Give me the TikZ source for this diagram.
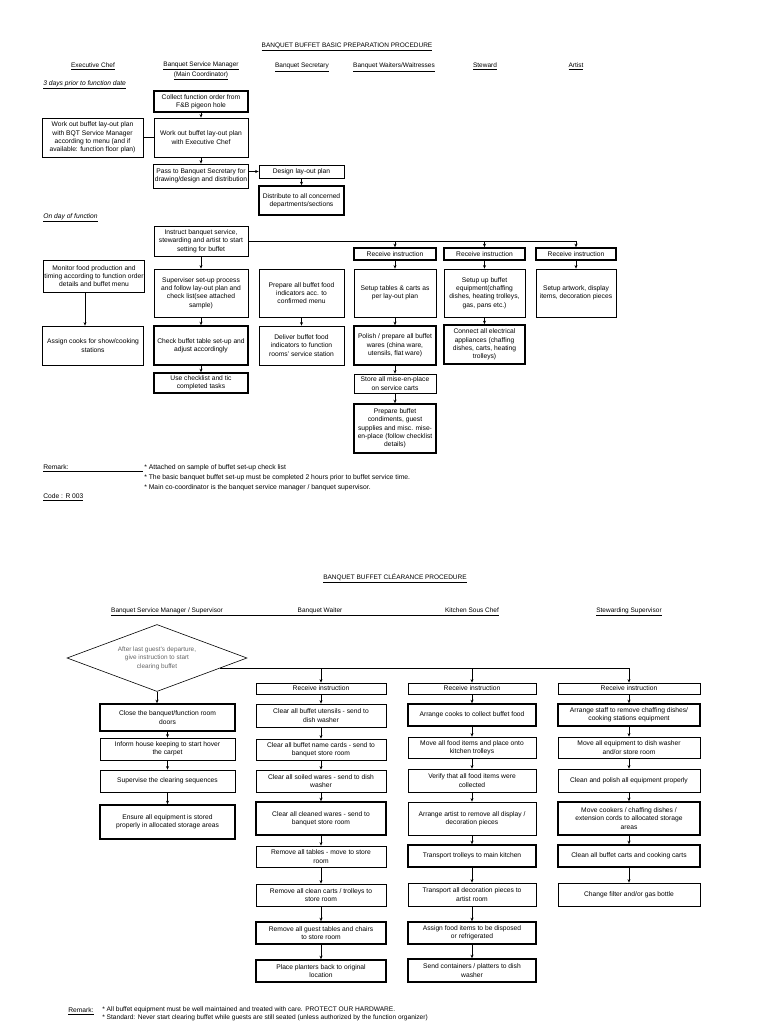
\documentclass[tikz,border=0pt]{standalone}
\usepackage{fontspec}
\setmainfont{Liberation Sans}
\usetikzlibrary{positioning,shapes.geometric,arrows.meta}
\newcommand\bqbox{\fontsize{6.7}{8.3}\selectfont}
\newcommand\bqhead{\fontsize{6.5}{10.5}\selectfont}
\newcommand\bqsmall{\fontsize{6.4}{8.4}\selectfont}
\newcommand\bqnote{\fontsize{6.8}{10}\selectfont}
\tikzset{
  box/.style={rectangle,draw,line width=0.8pt,align=center,inner sep=1pt,font=\bqbox},
  boldbox/.style={box,line width=1.6pt},
  heading/.style={font=\bqhead,inner sep=0pt,align=center},
  note/.style={font=\bqbox,inner sep=0pt,anchor=west,align=left},
  % column widths
  bsm/.style={minimum width=94pt},
  sec/.style={minimum width=85pt},
  chef/.style={minimum width=101pt},
  wait/.style={minimum width=82pt},
  stew/.style={minimum width=81pt},
  art/.style={minimum width=80pt},
  cmgr/.style={minimum width=135pt},
  cwait/.style={minimum width=130pt},
  ckit/.style={minimum width=128pt},
  cstew/.style={minimum width=142pt},
}
\begin{document}
\begin{tikzpicture}[x=1pt,y=-1pt,>={Stealth[length=3.5pt,width=3pt]},line width=0.6pt]
      \useasboundingbox[fill=white] (0,0) rectangle (768,1024);
      % Preparation title and column heads
      \node[heading] (title1) at (347,47) {\underline{BANQUET BUFFET BASIC PREPARATION PROCEDURE}};
      \node[heading,anchor=base] (hchef) at (93,68) {\underline{Executive Chef}};
      \node[heading] (hbsm) at (201,71) {\underline{Banquet Service Manager}\\\underline{(Main Coordinator)}};
      \node[heading,anchor=base] (hsec) at (302,68) {\underline{Banquet Secretary}};
      \node[heading,anchor=base] (hwait) at (394,68) {\underline{Banquet Waiters/Waitresses}};
      \node[heading,anchor=base] (hstew) at (485,68) {\underline{Steward}};
      \node[heading,anchor=base] (hart) at (576,68) {\underline{Artist}};
      \node[note,font=\bqbox\itshape] (prior) at (43,85) {\underline{3 days prior to function date}};
      % 3 days prior
      \node[boldbox,bsm,minimum height=21pt] (collect) at (201,101.5) {Collect function order from\\F\&B pigeon hole};
      \node[box,bsm,minimum height=39pt] (workbm) at (201,137.5) {Work out buffet lay-out plan\\with Executive Chef};
      \node[box,chef,minimum height=39pt] (workec) at (92.5,137.5) {Work out buffet lay-out plan\\with BQT Service Manager\\according to menu (and if\\available: function floor plan)};
      \node[box,bsm,minimum height=24pt] (pass) at (201,176) {Pass to Banquet Secretary for\\drawing/design and distribution};
      \node[box,sec,minimum height=13pt] (design) at (301.5,171.5) {Design lay-out plan};
      \node[boldbox,sec,minimum height=29pt] (distribute) at (301.5,200.5) {Distribute to all concerned\\departments/sections};
      \draw[->] (collect) -- (workbm);
      \draw (workec) -- (workbm);
      \draw[->] (workbm) -- (pass);
      \draw[->] (design.west -| pass.east) -- (design.west);
      \draw[->] (design) -- (distribute);
      % On day of function
      \node[note,font=\bqbox\itshape] (onday) at (43,218) {\underline{On day of function}};
      \node[box,bsm,minimum height=30pt] (instruct) at (201,241) {Instruct banquet service,\\stewarding and artist to start\\setting for buffet};
      \node[box,chef,minimum height=32pt] (monitor) at (94,276) {Monitor food production and\\timing according to function order\\details and buffet menu};
      \node[box,chef,minimum height=39pt] (assign) at (93,345.5) {Assign cooks for show/cooking\\stations};
      \node[box,bsm,minimum height=48pt] (supervise) at (201,293) {Superviser set-up process\\and follow lay-out plan and\\check list(see attached\\sample)};
      \node[boldbox,bsm,minimum height=39pt] (check) at (201,345.5) {Check buffet table set-up and\\adjust accordingly};
      \node[boldbox,bsm,minimum height=20pt] (usecheck) at (201,383) {Use checklist and tic\\completed tasks};
      \node[box,sec,minimum height=48pt] (prepind) at (301.5,293) {Prepare all buffet food\\indicators acc. to\\confirmed menu};
      \node[box,sec,minimum height=39pt] (deliver) at (301.5,345.5) {Deliver buffet food\\indicators to function\\rooms' service station};
      % receiving columns
      \node[boldbox,wait,minimum height=12pt] (rcvwait) at (395,254) {Receive instruction};
      \node[boldbox,stew,minimum height=12pt] (rcvstew) at (484.5,254) {Receive instruction};
      \node[boldbox,art,minimum height=12pt] (rcvart) at (576,254) {Receive instruction};
      \node[box,wait,minimum height=48pt] (setuptab) at (395,293) {Setup tables \& carts as\\per lay-out plan};
      \node[box,stew,minimum height=48pt] (setupeq) at (484.5,293) {Setup up buffet\\equipment(chaffing\\dishes, heating trolleys,\\gas, pans etc.)};
      \node[box,art,minimum height=48pt] (setupart) at (576,293) {Setup artwork, display\\items, decoration pieces};
      \node[boldbox,wait,minimum height=39pt] (polish) at (395,345.5) {Polish / prepare all buffet\\wares (china ware,\\utensils, flat ware)};
      \node[box,wait,minimum height=19pt] (store) at (395,383.5) {Store all mise-en-place\\on service carts};
      \node[boldbox,wait,minimum height=49pt] (condiments) at (395,428.5) {Prepare buffet\\condiments, guest\\supplies and misc. mise-\\en-place (follow checklist\\details)};
      \node[boldbox,stew,minimum height=39pt] (connect) at (484.5,344.5) {Connect all electrical\\appliances (chaffing\\dishes, carts, heating\\trolleys)};
      % interactions..
      \draw[->] (instruct) -- (supervise);
      \draw[->] (supervise) -- (check);
      \draw[->] (check) -- (usecheck);
      \draw[->] (prepind) -- (deliver);
      \draw[->] ([xshift=-9pt]monitor.south) -- ([xshift=-9pt]monitor.south |- assign.north);
      \draw (instruct.east) -- (instruct.east -| rcvart.north);
      \draw[->] (instruct.east -| rcvwait.north) -- (rcvwait.north);
      \draw[->] (instruct.east -| rcvstew.north) -- (rcvstew.north);
      \draw[->] (instruct.east -| rcvart.north) -- (rcvart.north);
      \draw[->] (rcvwait) -- (setuptab);
      \draw[->] (setuptab) -- (polish);
      \draw[->] (polish) -- (store);
      \draw[->] (store) -- (condiments);
      \draw[->] (rcvstew) -- (setupeq);
      \draw[->] (setupeq) -- (connect);
      \draw[->] (rcvart) -- (setupart);
      % remarks
      \node[note] (remark1) at (43,468) {\underline{\makebox[100pt][l]{Remark:}}};
      \node[note,font=\bqnote,anchor=north west] (remarks1) at (144,464) {* Attached on sample of buffet set-up check list\\* The basic banquet buffet set-up must be completed 2 hours prior to buffet service time.\\* Main co-coordinator is the banquet service manager / banquet supervisor.};
      \node[note] (code) at (43,497) {\underline{Code : R 003}};

      % Clearance title and column heads
      \node[heading] (title2) at (395,578) {\underline{BANQUET BUFFET CLÉARANCE PROCEDURE}};
      \node[heading,anchor=base] (hcmgr) at (167,612) {Banquet Service Manager / Supervisor};
      \node[heading,anchor=base] (hcwait) at (320,612) {Banquet Waiter};
      \node[heading,anchor=base] (hckit) at (472,612) {Kitchen Sous Chef};
      \node[heading,anchor=base] (hcstew) at (629,612) {\underline{Stewarding Supervisor}};
      \draw ([yshift=-1.5pt]hcmgr.south west) -- ([yshift=-1.5pt]hcmgr.south west -| hckit.east);
      % start of clearing
      \node[diamond,draw,line width=0.6pt,minimum width=180pt,minimum height=67pt,inner sep=0pt,aspect=2.7,align=center,font=\bqsmall,text=black!60] (depart) at (157,658) {After last guest's departure,\\give instruction to start\\clearing buffet};
      \coordinate (clrturn) at (depart.-9);
      % manager
      \node[boldbox,cmgr,minimum height=27pt] (close) at (167.5,717.5) {Close the banquet/function room\\doors};
      \node[box,cmgr,minimum height=22pt] (inform) at (167.5,749) {Inform house keeping to start hover\\the carpet};
      \node[box,cmgr,minimum height=22pt] (superv) at (167.5,781) {Supervise the clearing sequences};
      \node[boldbox,cmgr,minimum height=34pt] (ensure) at (167.5,822) {Ensure all equipment is stored\\properly in allocated storage areas};
      % waiter
      \node[box,cwait,minimum height=11pt] (rcvcwait) at (321,688.5) {Receive instruction};
      \node[box,cwait,minimum height=23pt] (wutensil) at (321,715.5) {Clear all buffet utensils - send to\\dish washer};
      \node[box,cwait,minimum height=21pt] (wcards) at (321,749.5) {Clear all buffet name cards - send to\\banquet store room};
      \node[box,cwait,minimum height=22pt] (wsoiled) at (321,781) {Clear all soiled wares - send to dish\\washer};
      \node[boldbox,cwait,minimum height=33pt] (wcleaned) at (321,818.5) {Clear all cleaned wares - send to\\banquet store room};
      \node[box,cwait,minimum height=21pt] (wtables) at (321,856.5) {Remove all tables - move to store\\room};
      \node[box,cwait,minimum height=22pt] (wcarts) at (321,895) {Remove all clean carts / trolleys to\\store room};
      \node[boldbox,cwait,minimum height=22pt] (wguest) at (321,933) {Remove all guest tables and chairs\\to store room};
      \node[boldbox,cwait,minimum height=22pt] (wplanter) at (321,971) {Place planters back to original\\location};
      % kitchen
      \node[box,ckit,minimum height=11pt] (rcvckit) at (472,688.5) {Receive instruction};
      \node[boldbox,ckit,minimum height=22pt] (kcooks) at (472,715) {Arrange cooks to collect buffet food};
      \node[box,ckit,minimum height=21pt] (kmove) at (472,747.5) {Move all food items and place onto\\kitchen trolleys};
      \node[box,ckit,minimum height=23pt] (kverify) at (472,780.5) {Verify that all food items were\\collected};
      \node[box,ckit,minimum height=33pt] (kartist) at (472,818.5) {Arrange artist to remove all display /\\decoration pieces};
      \node[boldbox,ckit,minimum height=22pt] (ktrolley) at (472,856) {Transport trolleys to main kitchen};
      \node[box,ckit,minimum height=23pt] (kdecor) at (472,894.5) {Transport all decoration pieces to\\artist room};
      \node[boldbox,ckit,minimum height=22pt] (kdispose) at (472,933) {Assign food items to be disposed\\or refrigerated};
      \node[boldbox,ckit,minimum height=23pt] (kcontain) at (472,970.5) {Send containers / platters to dish\\washer};
      % stewarding
      \node[box,cstew,minimum height=11pt] (rcvcstew) at (629,688.5) {Receive instruction};
      \node[boldbox,cstew,minimum height=22pt] (schaff) at (629,715) {Arrange staff to remove chaffing dishes/\\cooking stations equipment};
      \node[box,cstew,minimum height=21pt] (smove) at (629,747.5) {Move all equipment to dish washer\\and/or store room};
      \node[box,cstew,minimum height=23pt] (spolish) at (629,780.5) {Clean and polish all equipment properly};
      \node[boldbox,cstew,minimum height=33pt] (scookers) at (629,818.5) {Move cookers / chaffing dishes /\\extension cords to allocated storage\\areas};
      \node[boldbox,cstew,minimum height=22pt] (scarts) at (629,856) {Clean all buffet carts and cooking carts};
      \node[box,cstew,minimum height=23pt] (sfilter) at (629,894.5) {Change filter and/or gas bottle};
      % clearing interactions
      \draw[->] (depart.south) -- (depart.south |- close.north);
      \draw[->] (close) -- (inform);
      \draw[->] (inform) -- (superv);
      \draw[->] (superv) -- (ensure);
      \draw (clrturn) -- (clrturn -| rcvcstew.north);
      \draw[->] (clrturn -| rcvcwait.north) -- (rcvcwait.north);
      \draw[->] (clrturn -| rcvckit.north) -- (rcvckit.north);
      \draw[->] (clrturn -| rcvcstew.north) -- (rcvcstew.north);
      \draw[->] (rcvcwait) -- (wutensil);
      \draw[->] (wutensil) -- (wcards);
      \draw[->] (wcards) -- (wsoiled);
      \draw[->] (wsoiled) -- (wcleaned);
      \draw[->] (wcleaned) -- (wtables);
      \draw[->] (wtables) -- (wcarts);
      \draw[->] (wcarts) -- (wguest);
      \draw[->] (wguest) -- (wplanter);
      \draw[->] (rcvckit) -- (kcooks);
      \draw[->] (kcooks) -- (kmove);
      \draw[->] (kmove) -- (kverify);
      \draw[->] (kverify) -- (kartist);
      \draw[->] (kartist) -- (ktrolley);
      \draw[->] (ktrolley) -- (kdecor);
      \draw[->] (kdecor) -- (kdispose);
      \draw[->] (kdispose) -- (kcontain);
      \draw[->] (rcvcstew) -- (schaff);
      \draw[->] (schaff) -- (smove);
      \draw[->] (smove) -- (spolish);
      \draw[->] (spolish) -- (scookers);
      \draw[->] (scookers) -- (scarts);
      \draw[->] (scarts) -- (sfilter);
      % remarks
      \node[note] (remark2) at (68,1011) {\underline{Remark:}};
      \node[note,font=\fontsize{6.6}{8.6}\selectfont,anchor=north west] (remarks2) at (102,1006) {* All buffet equipment must be well maintained and treated with care. PROTECT OUR HARDWARE.\\* Standard: Never start clearing buffet while guests are still seated (unless authorized by the function organizer)};
    \end{tikzpicture}
\end{document}
